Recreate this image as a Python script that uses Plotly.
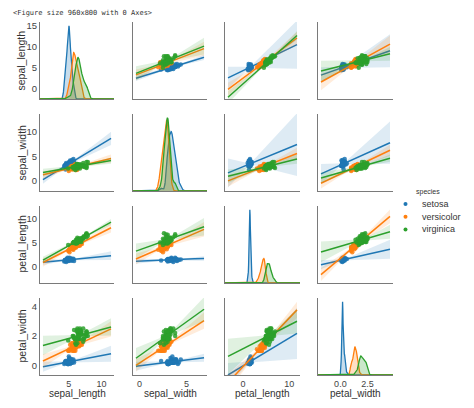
import numpy as np
import plotly.graph_objects as go

species_names = ["setosa", "versicolor", "virginica"]
colors = ["#1f77b4", "#ff7f0e", "#2ca02c"]
var_names = ["sepal_length", "sepal_width", "petal_length", "petal_width"]

sepal_length = [5.1,4.9,4.7,4.6,5.0,5.4,4.6,5.0,4.4,4.9,5.4,4.8,4.8,4.3,5.8,5.7,5.4,5.1,5.7,5.1,5.4,5.1,4.6,5.1,4.8,5.0,5.0,5.2,5.2,4.7,4.8,5.4,5.2,5.5,4.9,5.0,5.5,4.9,4.4,5.1,5.0,4.5,4.4,5.0,5.1,4.8,5.1,4.6,5.3,5.0,
7.0,6.4,6.9,5.5,6.5,5.7,6.3,4.9,6.6,5.2,5.0,5.9,6.0,6.1,5.6,6.7,5.6,5.8,6.2,5.6,5.9,6.1,6.3,6.1,6.4,6.6,6.8,6.7,6.0,5.7,5.5,5.5,5.8,6.0,5.4,6.0,6.7,6.3,5.6,5.5,5.5,6.1,5.8,5.0,5.6,5.7,5.7,6.2,5.1,5.7,
6.3,5.8,7.1,6.3,6.5,7.6,4.9,7.3,6.7,7.2,6.5,6.4,6.8,5.7,5.8,6.4,6.5,7.7,7.7,6.0,6.9,5.6,7.7,6.3,6.7,7.2,6.2,6.1,6.4,7.2,7.4,7.9,6.4,6.3,6.1,7.7,6.3,6.4,6.0,6.9,6.7,6.9,5.8,6.8,6.7,6.7,6.3,6.5,6.2,5.9]
sepal_width = [3.5,3.0,3.2,3.1,3.6,3.9,3.4,3.4,2.9,3.1,3.7,3.4,3.0,3.0,4.0,4.4,3.9,3.5,3.8,3.8,3.4,3.7,3.6,3.3,3.4,3.0,3.4,3.5,3.4,3.2,3.1,3.4,4.1,4.2,3.1,3.2,3.5,3.1,3.0,3.4,3.5,2.3,3.2,3.5,3.8,3.0,3.8,3.2,3.7,3.3,
3.2,3.2,3.1,2.3,2.8,2.8,3.3,2.4,2.9,2.7,2.0,3.0,2.2,2.9,2.9,3.1,3.0,2.7,2.2,2.5,3.2,2.8,2.5,2.8,2.9,3.0,2.8,3.0,2.9,2.6,2.4,2.4,2.7,2.7,3.0,3.4,3.1,2.3,3.0,2.5,2.6,3.0,2.6,2.3,2.7,3.0,2.9,2.9,2.5,2.8,
3.3,2.7,3.0,2.9,3.0,3.0,2.5,2.9,2.5,3.6,3.2,2.7,3.0,2.5,2.8,3.2,3.0,3.8,2.6,2.2,3.2,2.8,2.8,2.7,3.3,3.2,2.8,3.0,2.8,3.0,2.8,3.8,2.8,2.8,2.6,3.0,3.4,3.1,3.0,3.1,3.1,3.1,2.7,3.2,3.3,3.0,2.5,3.0,3.4,3.0]
petal_length = [1.4,1.4,1.3,1.5,1.4,1.7,1.4,1.5,1.4,1.5,1.5,1.6,1.4,1.1,1.2,1.5,1.3,1.4,1.7,1.5,1.7,1.5,1.0,1.7,1.9,1.6,1.6,1.5,1.4,1.6,1.6,1.5,1.5,1.4,1.5,1.2,1.3,1.5,1.3,1.5,1.3,1.3,1.3,1.6,1.9,1.4,1.6,1.4,1.5,1.4,
4.7,4.5,4.9,4.0,4.6,4.5,4.7,3.3,4.6,3.9,3.5,4.2,4.0,4.7,3.6,4.4,4.5,4.1,4.5,3.9,4.8,4.0,4.9,4.7,4.3,4.4,4.8,5.0,4.5,3.5,3.8,3.7,3.9,5.1,4.5,4.5,4.7,4.4,4.1,4.0,4.4,4.6,4.0,3.3,4.2,4.2,4.2,4.3,3.0,4.1,
6.0,5.1,5.9,5.6,5.8,6.6,4.5,6.3,5.8,6.1,5.1,5.3,5.5,5.0,5.1,5.3,5.5,6.7,6.9,5.0,5.7,4.9,6.7,4.9,5.7,6.0,4.8,4.9,5.6,5.8,6.1,6.4,5.6,5.1,5.6,6.1,5.6,5.5,4.8,5.4,5.6,5.1,5.1,5.9,5.7,5.2,5.0,5.2,5.4,5.1]
petal_width = [0.2,0.2,0.2,0.2,0.2,0.4,0.3,0.2,0.2,0.1,0.2,0.2,0.1,0.1,0.2,0.4,0.4,0.3,0.3,0.3,0.2,0.4,0.2,0.5,0.2,0.2,0.4,0.2,0.2,0.2,0.2,0.4,0.1,0.2,0.1,0.2,0.2,0.1,0.2,0.2,0.3,0.3,0.2,0.6,0.4,0.3,0.2,0.2,0.2,0.2,
1.4,1.5,1.5,1.3,1.5,1.3,1.6,1.0,1.3,1.4,1.0,1.5,1.0,1.4,1.3,1.4,1.5,1.0,1.5,1.1,1.8,1.3,1.5,1.2,1.3,1.4,1.4,1.7,1.5,1.0,1.1,1.0,1.2,1.6,1.5,1.6,1.5,1.3,1.3,1.3,1.2,1.4,1.2,1.0,1.3,1.2,1.3,1.3,1.1,1.3,
2.5,1.9,2.1,1.8,2.2,2.1,1.7,1.8,1.8,2.5,2.0,1.9,2.1,2.0,2.4,2.3,1.8,2.2,2.3,1.5,2.3,2.0,2.0,1.8,2.1,1.8,1.8,1.8,2.1,1.6,1.9,2.0,2.2,1.5,1.4,2.3,2.4,1.8,1.8,2.1,2.4,2.3,1.9,2.3,2.5,2.3,1.9,2.0,2.3,1.8]
species = ["setosa"] * 50 + ["versicolor"] * 50 + ["virginica"] * 50

x_ranges = [[0.6, 11.9], [-0.7, 7.2], [-3.9, 12.3], [-2.07, 4.87]]
y_ranges = [[-2.6, 15.9], [-2.1, 13.6], [-3.3, 12.5], [-0.65, 4.58]]
x_ticks = [[5, 10], [0, 5], [0, 10], [0.0, 2.5]]
x_ticklabels = [["5", "10"], ["0", "5"], ["0", "10"], ["0.0", "2.5"]]
y_ticks = [[0, 5, 10, 15], [0, 5, 10], [0, 5, 10], [0, 2, 4]]

data = {"sepal_length": np.array(sepal_length), "sepal_width": np.array(sepal_width),
        "petal_length": np.array(petal_length), "petal_width": np.array(petal_width)}
sp = np.array(species)

col_dom = [(40, 114), (133, 207), (225, 300), (318, 393)]
row_dom = [(22, 99), (114, 191), (206, 283), (298, 375)]
OFF = 8  # page body margin
W, H = 474 - 2 * OFF, 408 - 2 * OFF

def px(v):
    return (v - OFF) / W

def py(v):
    return 1 - (v - OFF) / H

def rgba(hexc, a):
    h = hexc.lstrip("#")
    return "rgba(%d,%d,%d,%s)" % (int(h[0:2], 16), int(h[2:4], 16), int(h[4:6], 16), a)

fig = go.Figure()
layout = {}
annotations = []
for r in range(4):
    for c in range(4):
        k = r * 4 + c + 1
        xa = "x" if k == 1 else "x%d" % k
        ya = "y" if k == 1 else "y%d" % k
        xv, yv = var_names[c], var_names[r]
        xr, yr = x_ranges[c], y_ranges[r]
        if r == c:
            grid = np.linspace(xr[0], xr[1], 300)
            dens_all = []
            for s in species_names:
                v = data[xv][sp == s]
                bw = v.std(ddof=1) * len(v) ** (-0.2)
                d = np.exp(-0.5 * ((grid[:, None] - v[None, :]) / bw) ** 2).sum(1) / (len(v) * bw * np.sqrt(2 * np.pi))
                dens_all.append(d)
            mx = max(d.max() for d in dens_all)
            scale = 0.95 * (yr[1] - yr[0]) / mx
            for i, s in enumerate(species_names):
                yy = yr[0] + dens_all[i] * scale
                fig.add_trace(go.Scatter(x=np.concatenate([grid, grid[::-1]]),
                                         y=np.concatenate([yy, np.full_like(grid, yr[0])]),
                                         fill="toself", fillcolor=rgba(colors[i], 0.25),
                                         line=dict(width=0), mode="lines", hoverinfo="skip",
                                         xaxis=xa, yaxis=ya, showlegend=False))
                fig.add_trace(go.Scatter(x=grid, y=yy, mode="lines", line=dict(color=colors[i], width=1.3),
                                         xaxis=xa, yaxis=ya, showlegend=False))
        else:
            for i, s in enumerate(species_names):
                x = data[xv][sp == s]
                y = data[yv][sp == s]
                b1, b0 = np.polyfit(x, y, 1)
                n = len(x)
                res = y - (b0 + b1 * x)
                sres = np.sqrt((res ** 2).sum() / (n - 2))
                sxx = ((x - x.mean()) ** 2).sum()
                span = xr[1] - xr[0]
                gx = np.linspace(xr[0] + 0.04 * span, xr[1] - 0.04 * span, 100)
                gy = b0 + b1 * gx
                se = sres * np.sqrt(1 / n + (gx - x.mean()) ** 2 / sxx) * 2.01
                fig.add_trace(go.Scatter(x=np.concatenate([gx, gx[::-1]]),
                                         y=np.concatenate([gy + se, (gy - se)[::-1]]),
                                         fill="toself", fillcolor=rgba(colors[i], 0.15),
                                         line=dict(width=0), mode="lines", hoverinfo="skip",
                                         xaxis=xa, yaxis=ya, showlegend=False))
                fig.add_trace(go.Scatter(x=x, y=y, mode="markers",
                                         marker=dict(color=colors[i], size=4.5, opacity=0.85),
                                         xaxis=xa, yaxis=ya, showlegend=False))
                fig.add_trace(go.Scatter(x=gx, y=gy, mode="lines", line=dict(color=colors[i], width=1.5),
                                         xaxis=xa, yaxis=ya, showlegend=False))
        axkey_x = "xaxis" if k == 1 else "xaxis%d" % k
        axkey_y = "yaxis" if k == 1 else "yaxis%d" % k
        layout[axkey_x] = dict(domain=[px(col_dom[c][0]), px(col_dom[c][1])], range=xr, anchor=ya,
                               showgrid=False, zeroline=False, showline=True, linecolor="#7a7a7a", linewidth=1,
                               tickvals=x_ticks[c], ticktext=x_ticklabels[c], showticklabels=(r == 3),
                               tickfont=dict(size=9, color="#444"), automargin=False)
        layout[axkey_y] = dict(domain=[py(row_dom[r][1]), py(row_dom[r][0])], range=yr, anchor=xa,
                               showgrid=False, zeroline=False, showline=True, linecolor="#7a7a7a", linewidth=1,
                               tickvals=y_ticks[r], showticklabels=(c == 0),
                               tickfont=dict(size=9.5, color="#444"), automargin=False)

for c in range(4):
    annotations.append(dict(text=var_names[c], x=px((col_dom[c][0] + col_dom[c][1]) / 2), y=py(400),
                            xref="paper", yref="paper", xanchor="center", yanchor="bottom", showarrow=False,
                            font=dict(size=10, color="#333"), borderpad=0))
for r in range(4):
    annotations.append(dict(text=var_names[r], x=px(21), y=py((row_dom[r][0] + row_dom[r][1]) / 2),
                            xref="paper", yref="paper", xanchor="center", yanchor="middle", showarrow=False,
                            textangle=-90, font=dict(size=10.5, color="#333")))

annotations += [dict(text="<Figure size 960x800 with 0 Axes>", x=px(12), y=py(8), xref="paper", yref="paper",
                     xanchor="left", yanchor="top", showarrow=False, borderpad=0,
                     font=dict(family="DejaVu Sans Mono", size=7, color="#333")),
                dict(text="species", x=px(428), y=py(192), xref="paper", yref="paper", xanchor="center",
                     yanchor="middle", showarrow=False, font=dict(size=7, color="#333"))]
shapes = []
for i, s in enumerate(species_names):
    yc = 204 + i * 12.7
    annotations.append(dict(text=s, x=px(420), y=py(yc), xref="paper", yref="paper", xanchor="left",
                            yanchor="middle", showarrow=False, font=dict(size=9, color="#333")))
    shapes.append(dict(type="circle", xref="paper", yref="paper", x0=px(403.5), x1=px(407.5),
                       y0=py(yc + 2), y1=py(yc - 2), fillcolor=colors[i], line=dict(width=0)))

fig.update_layout(width=W, height=H, margin=dict(l=0, r=0, t=0, b=0), plot_bgcolor="white",
                  paper_bgcolor="white", font=dict(family="Liberation Sans"),
                  annotations=annotations, shapes=shapes, **layout)
fig.write_html("out.html")
